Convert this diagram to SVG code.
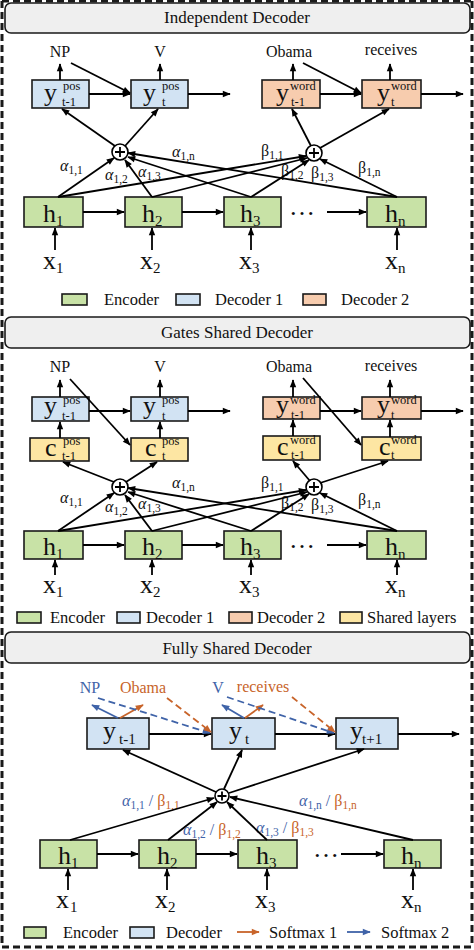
<svg xmlns="http://www.w3.org/2000/svg" width="474" height="950" viewBox="0 0 474 950">
<defs>
<marker id="ah" viewBox="0 0 10 10" refX="9" refY="5" markerWidth="9" markerHeight="8" markerUnits="userSpaceOnUse" orient="auto"><path d="M0,1 L10,5 L0,9 z" fill="#000"/></marker>
<marker id="ahb" viewBox="0 0 10 10" refX="9" refY="5" markerWidth="9" markerHeight="8" markerUnits="userSpaceOnUse" orient="auto"><path d="M0,1 L10,5 L0,9 z" fill="#3F63A8"/></marker>
<marker id="aho" viewBox="0 0 10 10" refX="9" refY="5" markerWidth="9" markerHeight="8" markerUnits="userSpaceOnUse" orient="auto"><path d="M0,1 L10,5 L0,9 z" fill="#C8642A"/></marker>
</defs>
<style>
.t{font-family:"Liberation Serif","Times New Roman",serif;fill:#111}
.title{font-size:17px}
.lab{font-size:16px}
.leg{font-size:16.5px}
.big{font-size:26px}
.ss{font-size:12.5px}
.hs{font-size:15px}
.al{font-size:16px;font-style:italic}
.be{font-size:16px}
.sub{font-size:11.5px}
.box{stroke:#1a1a1a;stroke-width:1.6}
.enc{fill:#C8E2A6}
.d1{fill:#D2E3F3}
.d2{fill:#F7CCAE}
.sh{fill:#FDE6A3}
.bar{fill:#EFEFEF;stroke:#1a1a1a;stroke-width:1.6}
.ln{stroke:#000;stroke-width:1.8;fill:none;marker-end:url(#ah)}
.lb{stroke:#3F63A8;stroke-width:1.8;fill:none;marker-end:url(#ahb)}
.lo{stroke:#C8642A;stroke-width:1.8;fill:none;marker-end:url(#aho)}
.dsh{stroke-dasharray:7 4}
.blue{fill:#3F63A8}
.orng{fill:#C8642A}
.plus{fill:#fff;stroke:#000;stroke-width:1.6}
.frame{fill:none;stroke:#1a1a1a;stroke-width:3;stroke-dasharray:7 4}
</style>

<!-- outer dashed frame -->
<path class="frame" d="M2,1 L472,1 M2,1 L2,947 M472,1 L472,947 M2,947 L472,947"/>

<!-- ================= PANEL 1 ================= -->
<g id="title1"><rect class="bar" x="5" y="3" width="465" height="30" rx="6"/><text class="t title" x="237" y="23" text-anchor="middle">Independent Decoder</text></g>

<g id="p1-out"><text class="t lab" x="60" y="57" text-anchor="middle">NP</text><text class="t lab" x="160" y="57" text-anchor="middle">V</text><text class="t lab" x="289" y="57" text-anchor="middle">Obama</text><text class="t lab" x="391" y="55" text-anchor="middle">receives</text></g>

<g id="p1-ypos1"><rect class="box d1" x="32" y="80" width="57" height="28"/><text class="t big" x="44" y="101">y</text><text class="t ss" x="63" y="90">pos</text><text class="t ss" x="62" y="106">t-1</text></g>
<g id="p1-ypos2"><rect class="box d1" x="131" y="80" width="57" height="28"/><text class="t big" x="143" y="101">y</text><text class="t ss" x="162" y="90">pos</text><text class="t ss" x="162" y="106">t</text></g>
<g id="p1-yw1"><rect class="box d2" x="262" y="80" width="58" height="28"/><text class="t big" x="276" y="101">y</text><text class="t ss" x="290" y="90">word</text><text class="t ss" x="291" y="106">t-1</text></g>
<g id="p1-yw2"><rect class="box d2" x="362" y="80" width="59" height="28"/><text class="t big" x="377" y="101">y</text><text class="t ss" x="391" y="90">word</text><text class="t ss" x="391" y="106">t</text></g>

<g id="p1-h1"><rect class="box enc" x="24" y="197" width="59" height="30"/><text class="t big" x="43" y="222">h</text><text class="t hs" x="56" y="226">1</text></g>
<g id="p1-h2"><rect class="box enc" x="125" y="197" width="57" height="30"/><text class="t big" x="142" y="222">h</text><text class="t hs" x="155" y="226">2</text></g>
<g id="p1-h3"><rect class="box enc" x="224" y="197" width="57" height="30"/><text class="t big" x="240" y="222">h</text><text class="t hs" x="253" y="226">3</text></g>
<g id="p1-hn"><rect class="box enc" x="367" y="197" width="59" height="30"/><text class="t big" x="385" y="222">h</text><text class="t hs" x="398" y="226">n</text></g>
<g id="p1-dots"><text class="t big" x="302" y="215" text-anchor="middle">…</text></g>

<g id="p1-x"><text class="t big" x="43" y="269">x</text><text class="t hs" x="56" y="273">1</text><text class="t big" x="140" y="269">x</text><text class="t hs" x="153" y="273">2</text><text class="t big" x="239" y="269">x</text><text class="t hs" x="252" y="273">3</text><text class="t big" x="385" y="269">x</text><text class="t hs" x="398" y="273">n</text></g>

<g id="p1-plus1"><circle class="plus" cx="120" cy="152" r="8"/><path d="M115,152 H125 M120,147 V157" stroke="#000" stroke-width="1.8"/></g>
<g id="p1-plus2"><circle class="plus" cx="314" cy="153" r="8"/><path d="M309,153 H319 M314,148 V158" stroke="#000" stroke-width="1.8"/></g>

<g id="p1-labels">
<text class="t" x="60" y="171"><tspan class="al">α</tspan><tspan class="sub" dy="3">1,1</tspan></text>
<text class="t" x="105" y="180"><tspan class="al">α</tspan><tspan class="sub" dy="3">1,2</tspan></text>
<text class="t" x="138" y="177"><tspan class="al">α</tspan><tspan class="sub" dy="3">1,3</tspan></text>
<text class="t" x="172" y="157"><tspan class="al">α</tspan><tspan class="sub" dy="3">1,n</tspan></text>
<text class="t" x="261" y="156"><tspan class="be">β</tspan><tspan class="sub" dy="3">1,1</tspan></text>
<text class="t" x="281" y="176"><tspan class="be">β</tspan><tspan class="sub" dy="3">1,2</tspan></text>
<text class="t" x="311" y="178"><tspan class="be">β</tspan><tspan class="sub" dy="3">1,3</tspan></text>
<text class="t" x="358" y="173"><tspan class="be">β</tspan><tspan class="sub" dy="3">1,n</tspan></text>
</g>

<g id="p1-legend">
<rect class="box enc" x="62" y="294" width="25" height="11"/><text class="t leg" x="104" y="305">Encoder</text>
<rect class="box d1" x="176" y="294" width="24" height="11"/><text class="t leg" x="215" y="305">Decoder 1</text>
<rect class="box d2" x="303" y="294" width="23" height="11"/><text class="t leg" x="341" y="305">Decoder 2</text>
</g>

<g id="p1-connectors">
<line class="ln" x1="89" y1="94" x2="130" y2="94"/>
<line class="ln" x1="188" y1="94" x2="230" y2="94"/>
<line class="ln" x1="60" y1="80" x2="60" y2="64"/>
<line class="ln" x1="160" y1="80" x2="160" y2="64"/>
<line class="ln" x1="71" y1="63" x2="130" y2="93"/>
<line class="ln" x1="115" y1="146" x2="62" y2="109"/>
<line class="ln" x1="125" y1="146" x2="158" y2="109"/>
<line class="ln" x1="320" y1="94" x2="361" y2="94"/>
<line class="ln" x1="421" y1="94" x2="463" y2="94"/>
<line class="ln" x1="293" y1="80" x2="293" y2="64"/>
<line class="ln" x1="390" y1="80" x2="390" y2="64"/>
<line class="ln" x1="303" y1="63" x2="361" y2="93"/>
<line class="ln" x1="311" y1="146" x2="292" y2="109"/>
<line class="ln" x1="320" y1="148" x2="389" y2="109"/>
<line class="ln" x1="83" y1="212" x2="124" y2="212"/>
<line class="ln" x1="182" y1="212" x2="223" y2="212"/>
<line class="ln" x1="327" y1="212" x2="366" y2="212"/>
<line class="ln" x1="55" y1="250" x2="55" y2="228"/>
<line class="ln" x1="152" y1="250" x2="152" y2="228"/>
<line class="ln" x1="251" y1="250" x2="251" y2="228"/>
<line class="ln" x1="397" y1="250" x2="397" y2="228"/>
<line class="ln" x1="58" y1="197" x2="114" y2="158"/>
<line class="ln" x1="152" y1="197" x2="125" y2="160"/>
<line class="ln" x1="251" y1="197" x2="128" y2="157"/>
<line class="ln" x1="397" y1="197" x2="128" y2="153"/>
<line class="ln" x1="58" y1="197" x2="306" y2="156"/>
<line class="ln" x1="152" y1="197" x2="307" y2="158"/>
<line class="ln" x1="251" y1="197" x2="309" y2="160"/>
<line class="ln" x1="397" y1="197" x2="320" y2="159"/>
</g>

<!-- ================= PANEL 2 ================= -->
<g id="title2"><rect class="bar" x="5" y="317" width="465" height="31" rx="6"/><text class="t title" x="237" y="338" text-anchor="middle">Gates Shared Decoder</text></g>

<g id="p2-out"><text class="t lab" x="60" y="372" text-anchor="middle">NP</text><text class="t lab" x="160" y="372" text-anchor="middle">V</text><text class="t lab" x="289" y="372" text-anchor="middle">Obama</text><text class="t lab" x="391" y="371" text-anchor="middle">receives</text></g>

<g id="p2-ypos1"><rect class="box d1" x="32" y="397" width="57" height="24"/><text class="t big" x="44" y="414">y</text><text class="t ss" x="63" y="404">pos</text><text class="t ss" x="62" y="420">t-1</text></g>
<g id="p2-cpos1"><rect class="box sh" x="30" y="438" width="59" height="23"/><text class="t big" x="45" y="456">c</text><text class="t ss" x="63" y="445">pos</text><text class="t ss" x="62" y="460">t-1</text></g>
<g id="p2-ypos2"><rect class="box d1" x="131" y="397" width="57" height="24"/><text class="t big" x="143" y="414">y</text><text class="t ss" x="162" y="404">pos</text><text class="t ss" x="162" y="420">t</text></g>
<g id="p2-cpos2"><rect class="box sh" x="131" y="438" width="57" height="23"/><text class="t big" x="145" y="456">c</text><text class="t ss" x="162" y="445">pos</text><text class="t ss" x="162" y="460">t</text></g>
<g id="p2-yw1"><rect class="box d2" x="263" y="397" width="57" height="22"/><text class="t big" x="276" y="413">y</text><text class="t ss" x="290" y="404">word</text><text class="t ss" x="291" y="419">t-1</text></g>
<g id="p2-cw1"><rect class="box sh" x="263" y="436" width="57" height="24"/><text class="t big" x="277" y="455">c</text><text class="t ss" x="290" y="444">word</text><text class="t ss" x="291" y="459">t-1</text></g>
<g id="p2-yw2"><rect class="box d2" x="362" y="397" width="59" height="22"/><text class="t big" x="377" y="413">y</text><text class="t ss" x="391" y="404">word</text><text class="t ss" x="391" y="419">t</text></g>
<g id="p2-cw2"><rect class="box sh" x="362" y="437" width="59" height="23"/><text class="t big" x="379" y="455">c</text><text class="t ss" x="391" y="444">word</text><text class="t ss" x="391" y="459">t</text></g>

<g id="p2-h1"><rect class="box enc" x="24" y="531" width="59" height="28"/><text class="t big" x="43" y="555">h</text><text class="t hs" x="56" y="559">1</text></g>
<g id="p2-h2"><rect class="box enc" x="125" y="531" width="57" height="28"/><text class="t big" x="142" y="555">h</text><text class="t hs" x="155" y="559">2</text></g>
<g id="p2-h3"><rect class="box enc" x="224" y="531" width="57" height="28"/><text class="t big" x="240" y="555">h</text><text class="t hs" x="253" y="559">3</text></g>
<g id="p2-hn"><rect class="box enc" x="367" y="531" width="59" height="28"/><text class="t big" x="385" y="555">h</text><text class="t hs" x="398" y="559">n</text></g>
<g id="p2-dots"><text class="t big" x="302" y="548" text-anchor="middle">…</text></g>

<g id="p2-x"><text class="t big" x="43" y="593">x</text><text class="t hs" x="56" y="597">1</text><text class="t big" x="140" y="593">x</text><text class="t hs" x="153" y="597">2</text><text class="t big" x="239" y="593">x</text><text class="t hs" x="252" y="597">3</text><text class="t big" x="385" y="593">x</text><text class="t hs" x="398" y="597">n</text></g>

<g id="p2-plus1"><circle class="plus" cx="120" cy="487" r="8"/><path d="M115,487 H125 M120,482 V492" stroke="#000" stroke-width="1.8"/></g>
<g id="p2-plus2"><circle class="plus" cx="314" cy="487" r="8"/><path d="M309,487 H319 M314,482 V492" stroke="#000" stroke-width="1.8"/></g>

<g id="p2-labels">
<text class="t" x="60" y="503"><tspan class="al">α</tspan><tspan class="sub" dy="3">1,1</tspan></text>
<text class="t" x="105" y="512"><tspan class="al">α</tspan><tspan class="sub" dy="3">1,2</tspan></text>
<text class="t" x="138" y="509"><tspan class="al">α</tspan><tspan class="sub" dy="3">1,3</tspan></text>
<text class="t" x="172" y="488"><tspan class="al">α</tspan><tspan class="sub" dy="3">1,n</tspan></text>
<text class="t" x="261" y="488"><tspan class="be">β</tspan><tspan class="sub" dy="3">1,1</tspan></text>
<text class="t" x="281" y="508"><tspan class="be">β</tspan><tspan class="sub" dy="3">1,2</tspan></text>
<text class="t" x="311" y="510"><tspan class="be">β</tspan><tspan class="sub" dy="3">1,3</tspan></text>
<text class="t" x="358" y="505"><tspan class="be">β</tspan><tspan class="sub" dy="3">1,n</tspan></text>
</g>

<g id="p2-legend">
<rect class="box enc" x="17" y="612" width="24" height="11"/><text class="t leg" x="50" y="623">Encoder</text>
<rect class="box d1" x="117" y="612" width="23" height="11"/><text class="t leg" x="146" y="623">Decoder 1</text>
<rect class="box d2" x="229" y="612" width="23" height="11"/><text class="t leg" x="257" y="623">Decoder 2</text>
<rect class="box sh" x="340" y="612" width="22" height="11"/><text class="t leg" x="367" y="623">Shared layers</text>
</g>

<g id="p2-connectors">
<line class="ln" x1="60" y1="438" x2="60" y2="422"/>
<line class="ln" x1="60" y1="397" x2="60" y2="380"/>
<line class="ln" x1="160" y1="438" x2="160" y2="422"/>
<line class="ln" x1="160" y1="397" x2="160" y2="380"/>
<line class="ln" x1="89" y1="411" x2="130" y2="411"/>
<line class="ln" x1="188" y1="411" x2="230" y2="411"/>
<line class="ln" x1="70" y1="379" x2="130" y2="445"/>
<line class="ln" x1="114" y1="482" x2="63" y2="462"/>
<line class="ln" x1="126" y1="482" x2="157" y2="462"/>
<line class="ln" x1="293" y1="436" x2="293" y2="420"/>
<line class="ln" x1="293" y1="397" x2="293" y2="380"/>
<line class="ln" x1="390" y1="437" x2="390" y2="420"/>
<line class="ln" x1="390" y1="397" x2="390" y2="380"/>
<line class="ln" x1="320" y1="411" x2="361" y2="411"/>
<line class="ln" x1="421" y1="411" x2="463" y2="411"/>
<line class="ln" x1="303" y1="378" x2="361" y2="445"/>
<line class="ln" x1="310" y1="481" x2="293" y2="461"/>
<line class="ln" x1="320" y1="483" x2="388" y2="461"/>
<line class="ln" x1="83" y1="545" x2="124" y2="545"/>
<line class="ln" x1="182" y1="545" x2="223" y2="545"/>
<line class="ln" x1="327" y1="545" x2="366" y2="545"/>
<line class="ln" x1="55" y1="575" x2="55" y2="560"/>
<line class="ln" x1="152" y1="575" x2="152" y2="560"/>
<line class="ln" x1="251" y1="575" x2="251" y2="560"/>
<line class="ln" x1="397" y1="575" x2="397" y2="560"/>
<line class="ln" x1="58" y1="531" x2="114" y2="493"/>
<line class="ln" x1="152" y1="531" x2="125" y2="495"/>
<line class="ln" x1="251" y1="531" x2="128" y2="492"/>
<line class="ln" x1="397" y1="531" x2="128" y2="488"/>
<line class="ln" x1="58" y1="531" x2="306" y2="490"/>
<line class="ln" x1="152" y1="531" x2="307" y2="492"/>
<line class="ln" x1="251" y1="531" x2="309" y2="494"/>
<line class="ln" x1="397" y1="531" x2="320" y2="493"/>
</g>

<!-- ================= PANEL 3 ================= -->
<g id="title3"><rect class="bar" x="5" y="632" width="465" height="31" rx="6"/><text class="t title" x="237" y="654" text-anchor="middle">Fully Shared Decoder</text></g>

<g id="p3-out">
<text class="t lab blue" x="90" y="693" text-anchor="middle">NP</text>
<text class="t lab orng" x="143" y="693" text-anchor="middle">Obama</text>
<text class="t lab blue" x="218" y="693" text-anchor="middle">V</text>
<text class="t lab orng" x="263" y="692" text-anchor="middle">receives</text>
</g>

<g id="p3-y1"><rect class="box d1" x="87" y="718" width="62" height="31"/><text class="t big" x="103" y="739">y</text><text class="t hs" x="119" y="744">t-1</text></g>
<g id="p3-y2"><rect class="box d1" x="212" y="718" width="63" height="31"/><text class="t big" x="229" y="739">y</text><text class="t hs" x="245" y="744">t</text></g>
<g id="p3-y3"><rect class="box d1" x="336" y="718" width="62" height="31"/><text class="t big" x="350" y="739">y</text><text class="t hs" x="362" y="744">t+1</text></g>

<g id="p3-h1"><rect class="box enc" x="40" y="840" width="57" height="28"/><text class="t big" x="58" y="864">h</text><text class="t hs" x="71" y="868">1</text></g>
<g id="p3-h2"><rect class="box enc" x="139" y="840" width="57" height="28"/><text class="t big" x="157" y="864">h</text><text class="t hs" x="170" y="868">2</text></g>
<g id="p3-h3"><rect class="box enc" x="238" y="840" width="59" height="28"/><text class="t big" x="256" y="864">h</text><text class="t hs" x="269" y="868">3</text></g>
<g id="p3-hn"><rect class="box enc" x="384" y="840" width="57" height="28"/><text class="t big" x="401" y="864">h</text><text class="t hs" x="414" y="868">n</text></g>
<g id="p3-dots"><text class="t big" x="326" y="857" text-anchor="middle">…</text></g>

<g id="p3-x"><text class="t big" x="56" y="908">x</text><text class="t hs" x="70" y="912">1</text><text class="t big" x="155" y="908">x</text><text class="t hs" x="168" y="912">2</text><text class="t big" x="255" y="908">x</text><text class="t hs" x="268" y="912">3</text><text class="t big" x="401" y="908">x</text><text class="t hs" x="414" y="912">n</text></g>

<g id="p3-plus"><circle class="plus" cx="222" cy="796" r="7"/><path d="M217.5,796 H226.5 M222,791.5 V800.5" stroke="#000" stroke-width="1.8"/></g>

<g id="p3-labels">
<text class="t" x="122" y="806"><tspan class="al blue">α</tspan><tspan class="sub blue" dy="3">1,1</tspan><tspan class="be blue" dy="-3"> / </tspan><tspan class="be orng">β</tspan><tspan class="sub orng" dy="3">1,1</tspan></text>
<text class="t" x="183" y="835"><tspan class="al blue">α</tspan><tspan class="sub blue" dy="3">1,2</tspan><tspan class="be blue" dy="-3"> / </tspan><tspan class="be orng">β</tspan><tspan class="sub orng" dy="3">1,2</tspan></text>
<text class="t" x="256" y="833"><tspan class="al blue">α</tspan><tspan class="sub blue" dy="3">1,3</tspan><tspan class="be blue" dy="-3"> / </tspan><tspan class="be orng">β</tspan><tspan class="sub orng" dy="3">1,3</tspan></text>
<text class="t" x="299" y="806"><tspan class="al blue">α</tspan><tspan class="sub blue" dy="3">1,n</tspan><tspan class="be blue" dy="-3"> / </tspan><tspan class="be orng">β</tspan><tspan class="sub orng" dy="3">1,n</tspan></text>
</g>

<g id="p3-legend">
<rect class="box enc" x="24" y="927" width="22" height="11"/><text class="t leg" x="63" y="938">Encoder</text>
<rect class="box d1" x="130" y="927" width="24" height="11"/><text class="t leg" x="166" y="938">Decoder</text>
<line class="lo" x1="237" y1="932" x2="259" y2="932"/><text class="t leg" x="269" y="938">Softmax 1</text>
<line class="lb" x1="347" y1="932" x2="370" y2="932"/><text class="t leg" x="381" y="938">Softmax 2</text>
</g>

<g id="p3-connectors">
<line class="ln" x1="149" y1="734" x2="211" y2="734"/>
<line class="ln" x1="275" y1="734" x2="335" y2="734"/>
<line class="ln" x1="398" y1="734" x2="459" y2="734"/>
<line class="lb" x1="118" y1="718" x2="92" y2="705"/>
<line class="lo" x1="120" y1="718" x2="143" y2="705"/>
<line class="lb" x1="244" y1="718" x2="222" y2="705"/>
<line class="lo" x1="245" y1="718" x2="263" y2="705"/>
<line class="lb dsh" x1="98" y1="698" x2="210" y2="733"/>
<line class="lo dsh" x1="167" y1="698" x2="211" y2="732"/>
<line class="lb dsh" x1="227" y1="697" x2="334" y2="733"/>
<line class="lo dsh" x1="292" y1="697" x2="335" y2="732"/>
<line class="ln" x1="216" y1="792" x2="123" y2="750"/>
<line class="ln" x1="224" y1="789" x2="242" y2="750"/>
<line class="ln" x1="229" y1="793" x2="364" y2="749"/>
<line class="ln" x1="97" y1="854" x2="138" y2="854"/>
<line class="ln" x1="196" y1="854" x2="237" y2="854"/>
<line class="ln" x1="341" y1="854" x2="383" y2="854"/>
<line class="ln" x1="68" y1="890" x2="68" y2="869"/>
<line class="ln" x1="167" y1="890" x2="167" y2="869"/>
<line class="ln" x1="267" y1="890" x2="267" y2="869"/>
<line class="ln" x1="413" y1="890" x2="413" y2="869"/>
<line class="ln" x1="70" y1="840" x2="214" y2="798"/>
<line class="ln" x1="168" y1="840" x2="217" y2="802"/>
<line class="ln" x1="267" y1="840" x2="227" y2="802"/>
<line class="ln" x1="413" y1="840" x2="230" y2="797"/>
</g>
</svg>
